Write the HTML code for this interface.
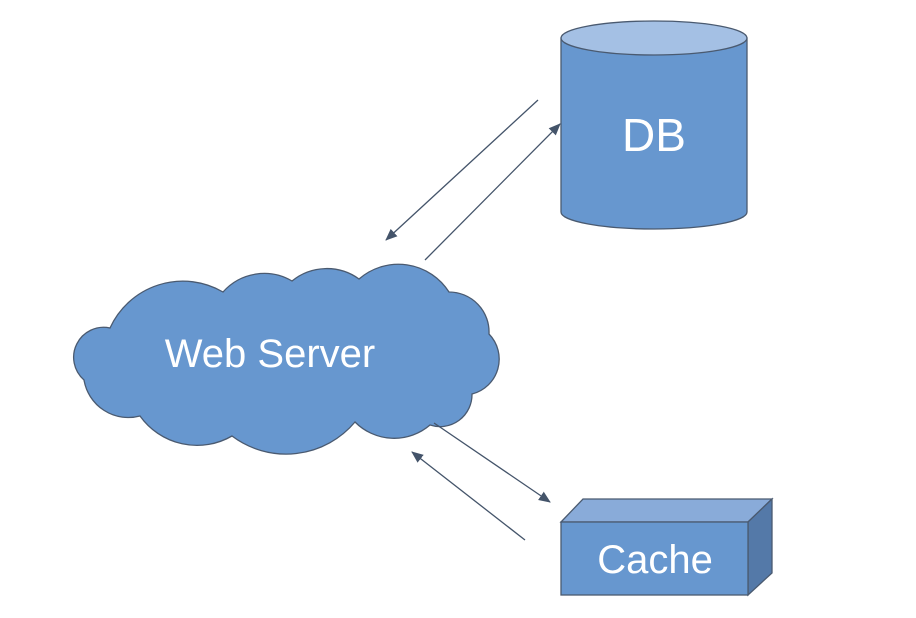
<!DOCTYPE html>
<html><head><style>html,body{margin:0;padding:0;background:#fff}svg{display:block}</style></head>
<body>
<svg width="916" height="618" viewBox="0 0 916 618" xmlns="http://www.w3.org/2000/svg">
<defs>
<marker id="a" markerWidth="14" markerHeight="14" refX="11" refY="6" orient="auto" markerUnits="userSpaceOnUse">
<path d="M0,1 L12,6 L0,11 Z" fill="#44546a"/></marker>
</defs>
<!-- DB -->
<path d="M561,38 L561,212 A93,17 0 0 0 747,212 L747,38 Z" fill="#6797cf" stroke="#4a5a70" stroke-width="1.3"/>
<ellipse cx="654" cy="38" rx="93" ry="17" fill="#a4c0e4" stroke="#4a5a70" stroke-width="1.3"/>
<text x="654" y="151" font-family="Liberation Sans, sans-serif" font-size="46" fill="#fff" text-anchor="middle">DB</text>
<!-- Cache -->
<path d="M561,522 L583,499 L772,499 L748,522 Z" fill="#89abd9" stroke="#4a5a70" stroke-width="1.3"/>
<path d="M748,522 L772,499 L772,573 L748,595 Z" fill="#5479a8" stroke="#4a5a70" stroke-width="1.3"/>
<rect x="561" y="522" width="187" height="73" fill="#6797cf" stroke="#4a5a70" stroke-width="1.3"/>
<text x="655" y="573" font-family="Liberation Sans, sans-serif" font-size="40" fill="#fff" text-anchor="middle">Cache</text>
<!-- Cloud -->
<path d="M110,328 A80,80 0 0 1 223,292 A55,55 0 0 1 292,281 A55,55 0 0 1 359,279 A60,60 0 0 1 449,292 A40,40 0 0 1 489,334 A36,36 0 0 1 472,394 A32,32 0 0 1 430,425 A55,55 0 0 1 355,422 A90,90 0 0 1 232,436 A70,70 0 0 1 140,416 A45,45 0 0 1 84,380 A30,30 0 0 1 110,328 Z" fill="#6797cf" stroke="#4a5a70" stroke-width="1.3"/>
<text x="270" y="367" font-family="Liberation Sans, sans-serif" font-size="40" fill="#fff" text-anchor="middle">Web Server</text>
<!-- arrows -->
<g stroke="#44546a" stroke-width="1.3" fill="none">
<line x1="538" y1="100" x2="386" y2="240" marker-end="url(#a)"/>
<line x1="425" y1="260" x2="560" y2="124" marker-end="url(#a)"/>
<line x1="434" y1="423" x2="550" y2="502" marker-end="url(#a)"/>
<line x1="525" y1="540" x2="412" y2="452" marker-end="url(#a)"/>
</g>
</svg>
</body></html>
